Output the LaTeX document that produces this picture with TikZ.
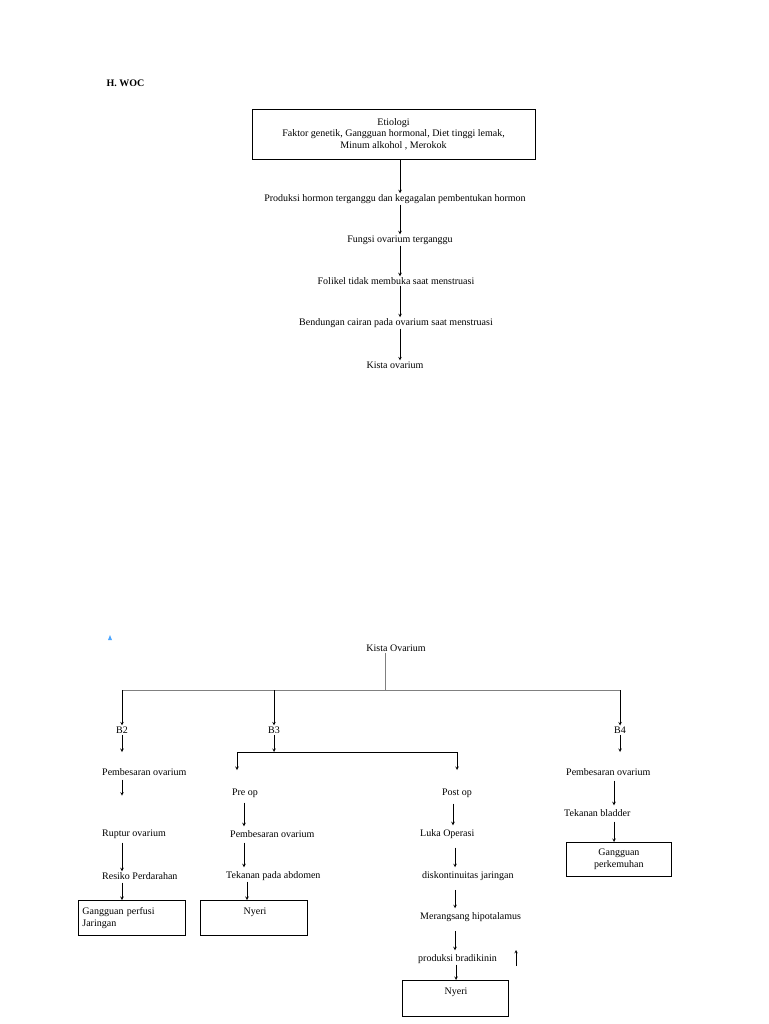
\documentclass[tikz,border=0pt]{standalone}
\usepackage{fontspec}
\setmainfont{Liberation Serif}
\begin{document}
\begin{tikzpicture}[x=1pt,y=-1pt,font=\fontsize{10}{11.5}\selectfont,
 t/.style={inner sep=1pt},
 tl/.style={inner sep=1pt,anchor=west},
 bx/.style={draw,line width=0.8pt},
 ar/.style={->,>=stealth,line width=0.6pt}]
\useasboundingbox (0,0) rectangle (768,1024);
\node[font=\fontsize{10}{11}\selectfont\bfseries,anchor=west] (title) at (103,83) {H. WOC};
\node[bx,minimum width=283pt,minimum height=50pt,align=center] (et) at (393.5,134) {Etiologi\\Faktor genetik, Gangguan hormonal, Diet tinggi lemak,\\Minum alkohol , Merokok};
\node[t] (p1) at (395,199) {Produksi hormon terganggu dan kegagalan pembentukan hormon};
\node[t] (p2) at (400,240) {Fungsi ovarium terganggu};
\node[t] (p3) at (396,281) {Folikel tidak membuka saat menstruasi};
\node[t] (p4) at (396,323) {Bendungan cairan pada ovarium saat menstruasi};
\node[t] (p5) at (395,365) {Kista ovarium};
\coordinate (cx) at (400,0);
\draw[ar] (et.south -| cx) -- (p1.north -| cx);
\draw[ar] (p1.south -| cx) -- (p2.north -| cx);
\draw[ar] (p2.south -| cx) -- (p3.north -| cx);
\draw[ar] (p3.south -| cx) -- (p4.north -| cx);
\draw[ar] (p4.south -| cx) -- (p5.north -| cx);
\fill[blue!50!cyan!70] (108,640) -- (112,640) -- (110,635) -- cycle;
% bottom
\node[t] (k) at (396,648) {Kista Ovarium};
\node[t] (b2) at (122,730) {B2};
\node[t] (b3) at (274,730) {B3};
\node[t] (b4) at (620,730) {B4};
\coordinate (hj) at (385,690);
\draw[gray,line width=0.6pt] (k.south -| hj) -- (hj);
\draw[gray,line width=0.6pt] (122,690) -- (620,690);
\draw[ar] (122,690) -- (b2.north);
\draw[ar] (274,690) -- (b3.north);
\draw[ar] (620,690) -- (b4.north);
% B2
\node[tl] (a1) at (101,772) {Pembesaran ovarium};
\node[tl] (a2) at (101,834) {Ruptur ovarium};
\node[tl] (a3) at (101,876) {Resiko Perdarahan};
\node[bx,minimum width=107pt,minimum height=35pt,align=left,anchor=north west,text width=99pt,inner sep=3pt] (a4) at (78,900) {Gangguan perfusi\\Jaringan};
\coordinate (c2) at (122,0);
\draw[ar] (b2.south) -- (122,752);
\draw[ar] (a1.south -| c2) ++(0,3) -- ++(0,16);
\draw[ar] (a2.south -| c2) ++(0,3) -- (a3.north -| c2);
\draw[ar] (a3.south -| c2) ++(0,2) -- (a4.north -| c2);
% B3
\coordinate (hb3) at (274,752);
\draw[line width=0.8pt] (237,752) -- (457,752);
\draw[ar] (b3.south) -- (hb3);
\node[t] (pre) at (245,793) {Pre op};
\node[t] (post) at (457,793) {Post op};
\draw[ar] (237,752) -- (237,770);
\draw[ar] (457,752) -- (457,770);
\node[tl] (c1) at (229,834) {Pembesaran ovarium};
\node[tl] (c3) at (225,876) {Tekanan pada abdomen};
\node[bx,minimum width=107pt,minimum height=35pt,anchor=north west] (c4) at (200,900) {};
\node[t] (c4t) at (255,912) {Nyeri};
\coordinate (cc) at (244,0);
\draw[ar] (pre.south -| cc) ++(0,4) -- ([yshift=3pt]c1.north -| cc);
\draw[ar] (c1.south -| cc) ++(0,4) -- ([yshift=3pt]c3.north -| cc);
\draw[ar] (c3.south -| 247,0) -- (c4.north -| 247,0);
\node[tl] (d1) at (419,834) {Luka Operasi};
\node[tl] (d2) at (421,876) {diskontinuitas jaringan};
\node[tl] (d3) at (419,917) {Merangsang hipotalamus};
\node[tl] (d4) at (417,959) {produksi bradikinin};
\node[bx,minimum width=106pt,minimum height=36pt,anchor=north west] (d5) at (402,980) {};
\node[t] (d5t) at (456,992) {Nyeri};
\coordinate (cd) at (455,0);
\draw[ar] (post.south -| 453,0) ++(0,5) -- ([yshift=3pt]d1.north -| 453,0);
\draw[ar] (d1.south -| cd) ++(0,8) -- ([yshift=3pt]d2.north -| cd);
\draw[ar] (d2.south -| cd) ++(0,8) -- ([yshift=3pt]d3.north -| cd);
\draw[ar] (d3.south -| cd) ++(0,8) -- ([yshift=3pt]d4.north -| cd);
\draw[ar] (d4.south -| 456,0) -- (d5.north -| 456,0);
\coordinate (up) at (516,966);
\draw[->,>=stealth,line width=0.5pt] (up) -- ++(0,-16);
% B4
\node[tl] (e1) at (565,772) {Pembesaran ovarium};
\node[tl] (e2) at (563,813) {Tekanan bladder};
\node[bx,minimum width=105pt,minimum height=34pt,align=center,anchor=north west] (e3) at (566,842) {Gangguan\\perkemuhan};
\coordinate (ce) at (614,0);
\draw[ar] (b4.south -| 620,0) -- (620,752);
\draw[ar] (e1.south -| ce) ++(0,4) -- ([yshift=3pt]e2.north -| ce);
\draw[ar] (e2.south -| ce) ++(0,4) -- (e3.north -| ce);
\end{tikzpicture}
\end{document}
